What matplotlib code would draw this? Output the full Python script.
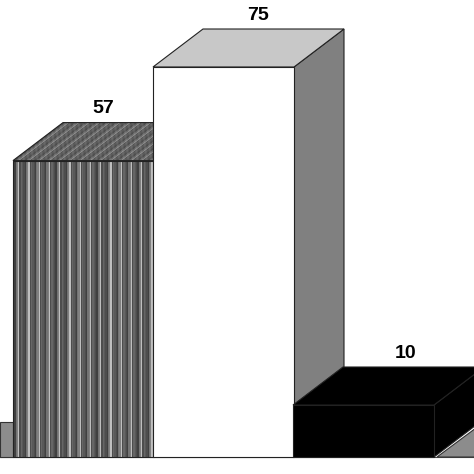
import matplotlib
matplotlib.use("Agg")
import matplotlib.pyplot as plt
from matplotlib.patches import Polygon, Rectangle

values = [57, 75, 10]
labels = ["57", "75", "10"]
front_colors = [None, "white", "black"]
top_colors = [None, "#c8c8c8", "black"]
side_colors = ["#808080", "#808080", "black"]
label_dx = [-5, 10, 17]

px = 5.2              # pixels per unit
W = 141               # bar width (px)
DX = 50               # depth x (px)
DY = 38 / px          # depth y (units)
lefts = [13, 153, 293]

fig = plt.figure(figsize=(4.74, 4.74), dpi=100)
ax = fig.add_axes([0, 0, 1, 1])
ax.set_xlim(0, 474)
ax.set_ylim(-17 / px, 457 / px)
ax.axis("off")

# small grey block at far left and grey piece at bottom right
ax.add_patch(Rectangle((0, 0), 13, 35 / px, facecolor="#8c8c8c", edgecolor="#333", lw=0.8, zorder=1))
ax.add_patch(Polygon([(437, 0), (480, 32 / px), (480, 0)], closed=True,
                     facecolor="#8c8c8c", edgecolor="#333", lw=0.8, zorder=9))

stripes = [0.3, 0.5, 0.7, 0.4, 0.8, 0.25, 0.55, 0.75, 0.35, 0.65, 0.45, 0.85, 0.3, 0.6]

for i, (x0, v) in enumerate(zip(lefts, values)):
    z = 2 + i
    ax.add_patch(Polygon([(x0 + W, 0), (x0 + W + DX, DY), (x0 + W + DX, v + DY), (x0 + W, v)],
                         closed=True, facecolor=side_colors[i], edgecolor="#222", lw=0.8, zorder=z))
    if i == 0:
        n = 110
        sw = W / n
        for k in range(n):
            g = stripes[(k * 5 + k // 4) % len(stripes)]
            ax.add_patch(Rectangle((x0 + k * sw, 0), sw, v, facecolor=str(g), edgecolor="none", zorder=z))
            tx = x0 + k * sw
            ax.add_patch(Polygon([(tx, v), (tx + sw, v), (tx + sw + DX, v + DY), (tx + DX, v + DY)],
                                 closed=True, facecolor=str(g * 0.6), edgecolor="none", zorder=z))
        ax.add_patch(Rectangle((x0, 0), W, v, facecolor="none", edgecolor="#222", lw=0.8, zorder=z))
        ax.add_patch(Polygon([(x0, v), (x0 + W, v), (x0 + W + DX, v + DY), (x0 + DX, v + DY)],
                             closed=True, facecolor="none", edgecolor="#222", lw=0.8, zorder=z))
    else:
        ax.add_patch(Polygon([(x0, v), (x0 + W, v), (x0 + W + DX, v + DY), (x0 + DX, v + DY)],
                             closed=True, facecolor=top_colors[i], edgecolor="#222", lw=0.8, zorder=z))
        ax.add_patch(Rectangle((x0, 0), W, v, facecolor=front_colors[i], edgecolor="#222", lw=0.8, zorder=z))
    ax.text(x0 + W / 2 + DX / 2 + label_dx[i], v + DY + 1.0, labels[i], ha="center", va="bottom",
            fontsize=14, fontweight="bold", family="Liberation Sans", zorder=10)

ax.plot([0, 474], [0, 0], color="#444", lw=0.8, zorder=0)
fig.savefig("out.png", dpi=100)
